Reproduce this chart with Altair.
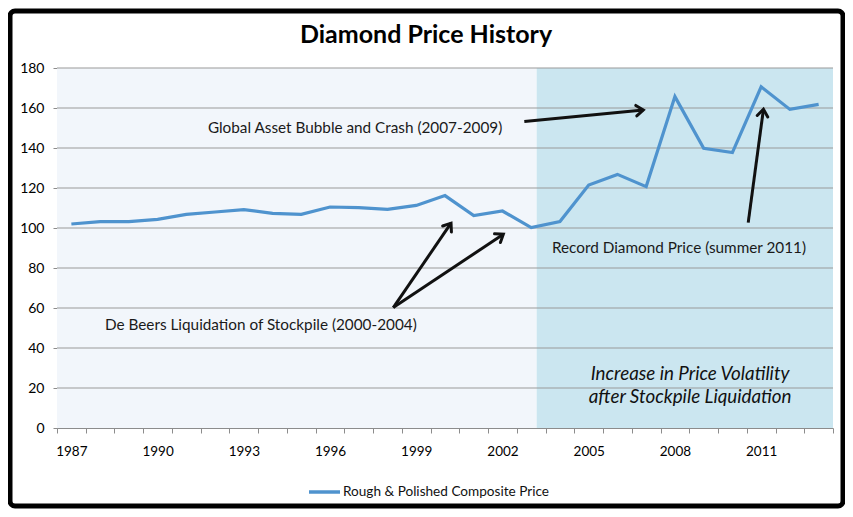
import math
import altair as alt
import pandas as pd

# ---------------- data ----------------
years = list(range(1987, 2014))
prices = [102.0, 103.2, 103.2, 104.3, 106.8, 108.0, 109.2, 107.3, 106.8, 110.5,
          110.2, 109.3, 111.3, 116.2, 106.2, 108.5, 100.2, 103.2, 121.5, 126.8,
          120.7, 165.7, 139.8, 137.7, 170.6, 159.3, 161.8]
series_name = "Rough & Polished Composite Price"
chart_title = "Diamond Price History"

y_ticks = [0, 20, 40, 60, 80, 100, 120, 140, 160, 180]
x_tick_bounds = [y - 0.5 for y in range(1987, 2015)]

region_start = [1986.5, 2003.19]
region_end = [2003.19, 2013.5]
region_name = ["before", "after"]

# annotation arrows (start -> tip), in data coordinates
arrow_x1 = [2002.76, 2010.55, 1998.20, 1998.20]
arrow_y1 = [153.2, 102.7, 60.2, 60.2]
arrow_x2 = [2006.90, 2011.08, 2000.21, 2002.03]
arrow_y2 = [159.0, 159.4, 102.4, 96.9]

note_text = ["Global Asset Bubble and Crash (2007-2009)",
             "De Beers Liquidation of Stockpile (2000-2004)",
             "Record Diamond Price (summer 2011)"]
note_x = [1991.75, 1988.17, 2003.72]
note_y = [150.0, 51.5, 90.0]

vol_text = ["Increase in Price Volatility", "after Stockpile Liquidation"]
vol_x = [2008.53, 2008.53]
vol_y = [27.0, 15.5]

# ---------------- layout ----------------
W, H = 776, 360
FONT = "Lato"
LINE_BLUE = "#4F93CE"
px_per_year = W / 27.0
px_per_unit = H / 180.0

x_scale = alt.Scale(domain=[1986.5, 2013.5], nice=False, zero=False)
y_scale = alt.Scale(domain=[0, 180], nice=False, zero=True)

x_axis = alt.Axis(
    values=x_tick_bounds,
    labelExpr="(datum.value < 2013 && (datum.value + 0.5 - 1987) % 3 == 0) ? format(datum.value + 0.5, 'd') : ''",
    labelOffset=px_per_year / 2,
    labelFlush=False, labelOverlap=False, labelBound=False,
    grid=False, tickSize=5, tickColor="#8c8c8c", domainColor="#8c8c8c",
    labelPadding=11, labelFontSize=13.5, labelFont=FONT, labelColor="#000000",
    title=None,
)
y_axis = alt.Axis(
    values=y_ticks, grid=False, tickSize=4, tickColor="#8c8c8c",
    domainColor="#8c8c8c", labelPadding=9, labelFontSize=14, labelFont=FONT,
    labelColor="#000000", title=None,
)


def X(field):
    return alt.X(field, type="quantitative", scale=x_scale, axis=x_axis)


def Y(field):
    return alt.Y(field, type="quantitative", scale=y_scale, axis=y_axis)


df = pd.DataFrame({"year": years, "price": prices, "series": series_name})
regions = pd.DataFrame({"x1": region_start, "x2": region_end, "name": region_name,
                        "y1": [0, 0], "y2": [180, 180]})
grid = pd.DataFrame({"y": y_ticks[1:]})
arrows = pd.DataFrame({"x1": arrow_x1, "y1": arrow_y1, "x2": arrow_x2, "y2": arrow_y2})
arrows["angle"] = [
    math.degrees(math.atan2(-(b2 - b1) * px_per_unit, (a2 - a1) * px_per_year)) % 360
    for a1, b1, a2, b2 in zip(arrow_x1, arrow_y1, arrow_x2, arrow_y2)
]
notes = pd.DataFrame({"text": note_text, "x": note_x, "y": note_y})
vol = pd.DataFrame({"text": vol_text, "x": vol_x, "y": vol_y})

bg = alt.Chart(regions).mark_rect().encode(
    x=X("x1"), x2="x2", y=Y("y1"), y2="y2",
    fill=alt.Fill("name:N", scale=alt.Scale(domain=region_name,
                                            range=["#F2F6FB", "#CBE6F0"]),
                  legend=None),
)

grid_lines = alt.Chart(grid).mark_rule(color="#9a9a9a", strokeWidth=1.2).encode(
    y=Y("y"),
)

line = alt.Chart(df).mark_line(strokeWidth=3.2, strokeJoin="miter").encode(
    x=X("year"), y=Y("price"),
    stroke=alt.Stroke("series:N",
                      scale=alt.Scale(domain=[series_name], range=[LINE_BLUE]),
                      legend=alt.Legend(orient="none", legendX=250, legendY=406.5,
                                        title=None, symbolType="stroke",
                                        symbolStrokeWidth=3.5, symbolSize=961,
                                        symbolStrokeColor=LINE_BLUE,
                                        labelFont=FONT, labelFontSize=13.6,
                                        labelLimit=0,
                                        labelColor="#111111", labelOffset=1,
                                        padding=0)),
)

arrow_lines = alt.Chart(arrows).mark_rule(color="#111111", strokeWidth=3).encode(
    x=X("x1"), y=Y("y1"), x2="x2", y2="y2",
)

arrow_heads = alt.Chart(arrows).mark_point(
    shape="M -1 -0.75 L 0 0 L -1 0.75", filled=False, color="#111111",
    strokeWidth=3, size=200, opacity=1, strokeCap="round", strokeJoin="miter",
).encode(
    x=X("x2"), y=Y("y2"), angle=alt.Angle("angle:Q", scale=None),
)

note_layer = alt.Chart(notes).mark_text(
    align="left", baseline="middle", font=FONT, fontSize=15.3, color="#1a1a1a",
).encode(x=X("x"), y=Y("y"), text="text:N")

vol_layer = alt.Chart(vol).mark_text(
    align="center", baseline="middle", font=FONT, fontSize=18.8,
    fontStyle="italic", color="#111111",
).encode(x=X("x"), y=Y("y"), text="text:N")

title_layer = alt.Chart(pd.DataFrame({"t": [chart_title]})).mark_text(
    align="center", baseline="middle", font=FONT, fontSize=25,
    fontWeight="bold", color="#000000",
).encode(x=alt.value(369), y=alt.value(-33), text="t:N")

frame = alt.Chart(pd.DataFrame({"k": [0]})).mark_rect(
    filled=False, stroke="#000000", strokeWidth=5, cornerRadius=5,
).encode(
    x=alt.value(-47), x2=alt.value(W + 10), y=alt.value(-57), y2=alt.value(H + 78),
)

chart = alt.layer(
    bg, grid_lines, line, arrow_lines, arrow_heads, note_layer, vol_layer,
    title_layer, frame
).resolve_scale(
    fill="independent", stroke="independent"
).properties(
    width=W, height=H,
    autosize=alt.AutoSizeParams(type="none"),
    padding={"left": 49, "top": 60, "right": 12, "bottom": 81},
    background="#ffffff",
).configure_view(stroke=None)

chart.save("out.html", embed_options={"renderer": "svg", "actions": False})
